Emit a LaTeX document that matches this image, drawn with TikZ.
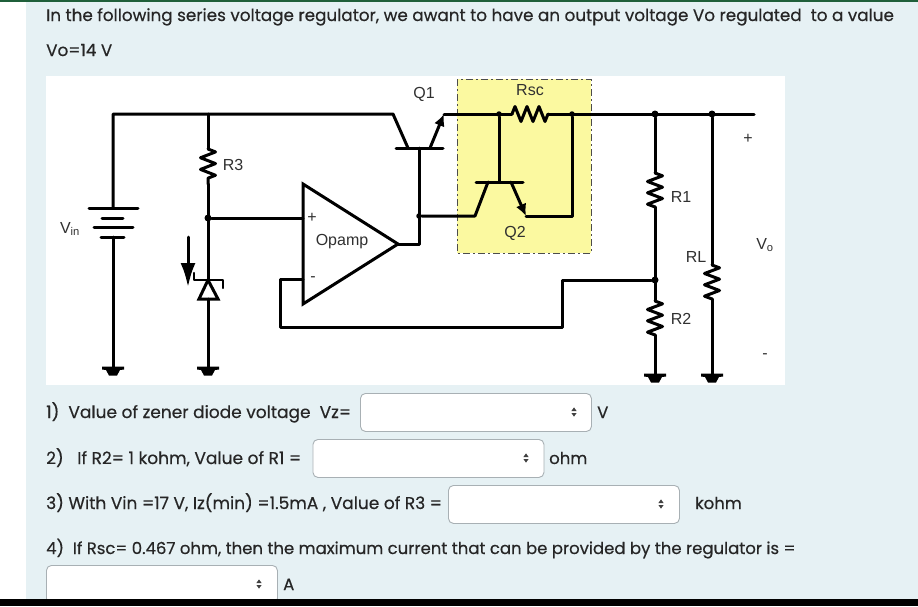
\documentclass[tikz,border=0pt]{standalone}
\usepackage{fontspec}
\setmainfont{Liberation Sans}
\newfontfamily\qfont[FakeBold=0.45]{Poppins}
\usetikzlibrary{arrows.meta,decorations.pathmorphing}
\definecolor{pagebg}{HTML}{E6F1F4}
\definecolor{boxyellow}{HTML}{FBF9A0}
\definecolor{labelgray}{HTML}{303030}
\definecolor{topgreen}{HTML}{1F5F3A}
\definecolor{selgray}{HTML}{A8B0B4}
\tikzset{
  wire/.style={black,line width=3pt,line cap=round,line join=round},
  thinwire/.style={black,line width=2.2pt,line cap=round,line join=round},
  res/.style={wire,decorate,decoration={zigzag,amplitude=7.5pt,segment length=#1}},
  dot/.style={circle,fill=black,inner sep=0pt,minimum size=7pt},
  lab/.style={text=labelgray,inner sep=0pt,font=\fontsize{16}{18}\selectfont},
  qtext/.style={anchor=base west,inner sep=0pt,text=black!85,font=\fontsize{#1}{19}\qfont},
  selbox/.style={draw=selgray,fill=white,rounded corners=5pt,line width=0.9pt,inner sep=0pt,
    minimum width=231pt,minimum height=38pt,anchor=north west},
  selmark/.pic={
    \fill[black!75] (-2.6,-1) -- (2.6,-1) -- (0,-4.6) -- cycle;
    \fill[black!75] (-2.6,1) -- (2.6,1) -- (0,4.6) -- cycle;
  },
  gnd/.pic={
    \fill[black] (-11,-1.5) -- (11,-1.5) -- (11,1.5) -- (7,2) -- (4,7.5) -- (-4,7.5) -- (-7,2) -- (-11,1.5) -- cycle;
  }
}
\begin{document}
\begin{tikzpicture}[x=1pt,y=-1pt]
\useasboundingbox (0,0) rectangle (918,606);
% page
\fill[white] (0,0) rectangle (918,606);
\fill[pagebg] (26,0) rectangle (918,606);
\fill[topgreen] (0,0) rectangle (918,2);
\fill[white] (46,76) rectangle (785,385);
% current limit box
\draw[fill=boxyellow,draw=black!70,line width=0.8pt,dash pattern=on 7pt off 3pt on 2pt off 3pt] (457,79) rectangle (591,253);
% points
\coordinate (topleft) at (113,114);
\coordinate (battop) at (113,208);
\coordinate (batbot) at (113,237);
\coordinate (gnda) at (113,368);
\coordinate (rthreetop) at (208,114);
\coordinate (rthreea) at (208,149);
\coordinate (rthreeb) at (208,184);
\node[dot] (nplus) at (208,218) {};
\coordinate (zenk) at (208,280);
\coordinate (zena) at (208,299);
\coordinate (gndb) at (208,368);
\coordinate (qonec) at (393,114);
\coordinate (qoneci) at (408,148);
\coordinate (qonee) at (430,148);
\coordinate (qoneeo) at (444,114);
\coordinate (qoneb) at (419,148);
\coordinate (opout) at (419,244);
\node[dot,minimum size=5.5pt] (nbase) at (419,216) {};
\node[dot,minimum size=5.5pt] (nsense) at (499,114) {};
\coordinate (rsca) at (512,114);
\coordinate (rscb) at (548,114);
\node[dot,minimum size=5.5pt] (nout) at (572,114) {};
\coordinate (qtwob) at (499,182);
\coordinate (qtwoc) at (488,182);
\coordinate (qtwoci) at (475,216);
\coordinate (qtwoe) at (511,182);
\coordinate (qtwoei) at (526,216);
\coordinate (qtwoo) at (572,216);
\node[dot] (none) at (655,114) {};
\node[dot] (ntwo) at (712,114) {};
\coordinate (outend) at (754,114);
\coordinate (ronea) at (655,173);
\coordinate (roneb) at (655,207);
\node[dot] (nfb) at (655,280) {};
\coordinate (rtwoa) at (655,301);
\coordinate (rtwob) at (655,335);
\coordinate (gndc) at (655,375);
\coordinate (rla) at (712,265);
\coordinate (rlb) at (712,299);
\coordinate (gndd) at (712,375);
% opamp
\coordinate (opa) at (303,184);
\coordinate (opb) at (303,304);
\coordinate (opc) at (398,244);
\coordinate (opp) at (303,218);
\coordinate (opm) at (303,279);
\draw[wire,line join=miter] (opa) -- (opb) -- (opc) -- cycle;
% wires
\draw[wire] (battop) -- (topleft) -- (qonec) -- (qoneci);
\draw[wire] (rthreetop) -- (rthreea);
\draw[res=11.67pt] (rthreea) -- (rthreeb);
\draw[wire] (rthreeb) -- (zenk);
\draw[wire] (nplus) -- (opp);
\draw[wire] (opm) -- (280,279) -- (280,327) -- (562,327) -- (562,280) -- (nfb);
\draw[wire] (opc) -- (opout) -- (qoneb);
\draw[wire] (nbase) -- (qtwoci) -- (qtwoc);
\draw[wire] (qtwoei) -- (qtwoo) -- (nout);
\draw[wire] (nsense) -- (qtwob);
\draw[wire] (396,148) -- (443,148);
\draw[wire] (476,182) -- (523,182);
\draw[wire,-{Latex[length=12pt,width=11pt]}] (qonee) -- (qoneeo);
\draw[wire] (qoneeo) -- (rsca);
\draw[res=12pt] (rsca) -- (rscb);
\draw[wire] (rscb) -- (outend);
\draw[wire,-{Latex[length=12pt,width=11pt]}] (qtwoe) -- (qtwoei);
\draw[wire] (none) -- (ronea);
\draw[res=11.33pt] (ronea) -- (roneb);
\draw[wire] (roneb) -- (rtwoa);
\draw[res=11.33pt] (rtwoa) -- (rtwob);
\draw[wire] (rtwob) -- (gndc);
\draw[wire] (ntwo) -- (rla);
\draw[res=11.33pt] (rla) -- (rlb);
\draw[wire] (rlb) -- (gndd);
% battery
\draw[wire] (89,208) -- (138,208);
\draw[wire] (102,218) -- (123,218);
\draw[wire] (94,227) -- (133,227);
\draw[wire] (101,237) -- (124,237);
\draw[wire] (batbot) -- (gnda);
% zener
\draw[wire] (zena) -- (gndb);
\draw[wire,line join=miter] (zenk) -- (199,299) -- (218,299) -- cycle;
\draw[thinwire] (194,273) -- (194,280) -- (223,280) -- (223,288);
\draw[wire,-{Latex[length=24pt,width=15pt]}] (188,237) -- (188,287);
% grounds
\pic at (gnda) {gnd};
\pic at (gndb) {gnd};
\pic at (gndc) {gnd};
\pic at (gndd) {gnd};
% circuit labels
\node[lab] (lvin) at (70,229) {V\textsubscript{in}};
\node[lab] (lrthree) at (233,165) {R3};
\node[lab] (lopamp) at (342,242) {Opamp};
\node[lab] (lplus) at (312,218) {+};
\node[lab] (lminus) at (313,279) {-};
\node[lab] (lqone) at (424,94) {Q1};
\node[lab] (lrsc) at (530,90) {Rsc};
\node[lab] (lqtwo) at (515,233) {Q2};
\node[lab] (lrone) at (681,197) {R1};
\node[lab] (lrl) at (696,257) {RL};
\node[lab] (lrtwo) at (681,319) {R2};
\node[lab] (lvo) at (765,245) {V\textsubscript{o}};
\node[lab] (lop) at (748,139) {+};
\node[lab] (lom) at (765,356) {-};
% question text
\node[qtext=16.8] (ttitle) at (46,21) {In the following series voltage regulator, we awant to have an output voltage Vo regulated\ \ to a value};
\node[qtext=16.8] (tvo) at (46,56) {Vo=14 V};
\node[qtext=17] (tqone) at (46,418) {1)\ \ Value of zener diode voltage\ \ Vz=};
\node[selbox] (sone) at (360,393) {};
\pic at (574,412) {selmark};
\node[qtext=16.5] (uone) at (597,418) {V};
\node[qtext=17] (tqtwo) at (46,464) {2)\ \ \ If R2= 1 kohm, Value of R1 =};
\node[selbox] (stwo) at (312.5,439) {};
\pic at (526,458) {selmark};
\node[qtext=16.5] (utwo) at (549,464) {ohm};
\node[qtext=17] (tqthree) at (46,509) {3) With Vin =17 V, Iz(min) =1.5mA , Value of R3 =};
\node[selbox] (sthree) at (448,485) {};
\pic at (661,504) {selmark};
\node[qtext=16.5] (uthree) at (695,509) {kohm};
\node[qtext=16.5] (tqfour) at (46,554) {4)\ \ If Rsc= 0.467 ohm, then the maximum current that can be provided by the regulator is =};
\node[selbox] (sfour) at (46,565) {};
\pic at (259,584) {selmark};
\node[qtext=16.5] (ufour) at (283,590) {A};
% bottom bar
\fill[black] (0,599) rectangle (918,606);
\end{tikzpicture}
\end{document}
